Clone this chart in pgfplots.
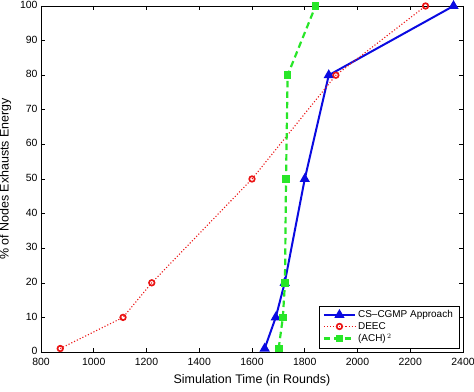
\documentclass[border=0pt]{standalone}
\usepackage{fontspec}
\setmainfont{Liberation Sans}
\usepackage{pgfplots}
\pgfplotsset{compat=1.18}
\usetikzlibrary{calc}
\definecolor{mblue}{RGB}{10,10,225}
\definecolor{mred}{RGB}{235,20,20}
\definecolor{mgreen}{RGB}{40,230,40}
\begin{document}
\begin{tikzpicture}
\begin{axis}[
  scale only axis, width=422bp, height=346bp,
  xmin=800, xmax=2400, ymin=0, ymax=100,
  xtick={800,1000,...,2400}, ytick={0,10,...,100},
  tick align=inside, major tick length=4bp,
  axis line style={line width=0.8pt},
  every tick/.style={black, line width=0.6pt},
  ticklabel style={font=\fontsize{10.5}{12}\selectfont},
  xticklabel style={yshift=-2.5bp},
  yticklabel style={yshift=1bp},
  /pgf/number format/assume math mode=true,
  /pgf/number format/1000 sep={},
  xlabel={Simulation Time (in Rounds)},
  ylabel={\% of Nodes Exhausts Energy},
  label style={font=\fontsize{12.5}{14}\selectfont},
  xlabel style={yshift=-2.5bp},
  ylabel style={yshift=2bp},
  legend style={at={(1,0)}, anchor=south east, xshift=-4bp, yshift=4bp,
    font=\fontsize{10}{11}\selectfont, draw=black,
    inner xsep=4bp, inner ysep=2.5bp, row sep=-1pt},
  legend cell align=left,
  legend image code/.code={\draw[mark repeat=2,mark phase=2,#1] plot coordinates {(0cm,0cm)(0.55cm,0cm)(1.1cm,0cm)};},
]
\addplot[mblue, line width=2pt, mark=triangle*, mark size=4pt, mark options={solid}]
  coordinates {(1648,1) (1690,10) (1724,20) (1800,50) (1891,80) (2364,100)};
\addlegendentry{CS--CGMP Approach}
\addplot[mred, line width=1.1pt, dotted, mark=o, mark size=2.8pt, mark options={solid, line width=1.7pt}]
  coordinates {(873,1) (1111,10) (1220,20) (1600,50) (1918,80) (2258,100)};
\addlegendentry{DEEC}
\addplot[mgreen, line width=2.2pt, dash pattern=on 6.5pt off 4pt, mark=square*, mark size=2.8pt, mark options={solid}]
  coordinates {(1701,1) (1717,10) (1725,20) (1729,50) (1735,80) (1841,100)};
\addlegendentry{(ACH)$^{\,2}$}
\end{axis}
\pgfresetboundingbox
\path[use as bounding box] ($(current axis.south west)+(-41bp,-40bp)$) rectangle ($(current axis.north east)+(11bp,6bp)$);
\end{tikzpicture}
\end{document}
